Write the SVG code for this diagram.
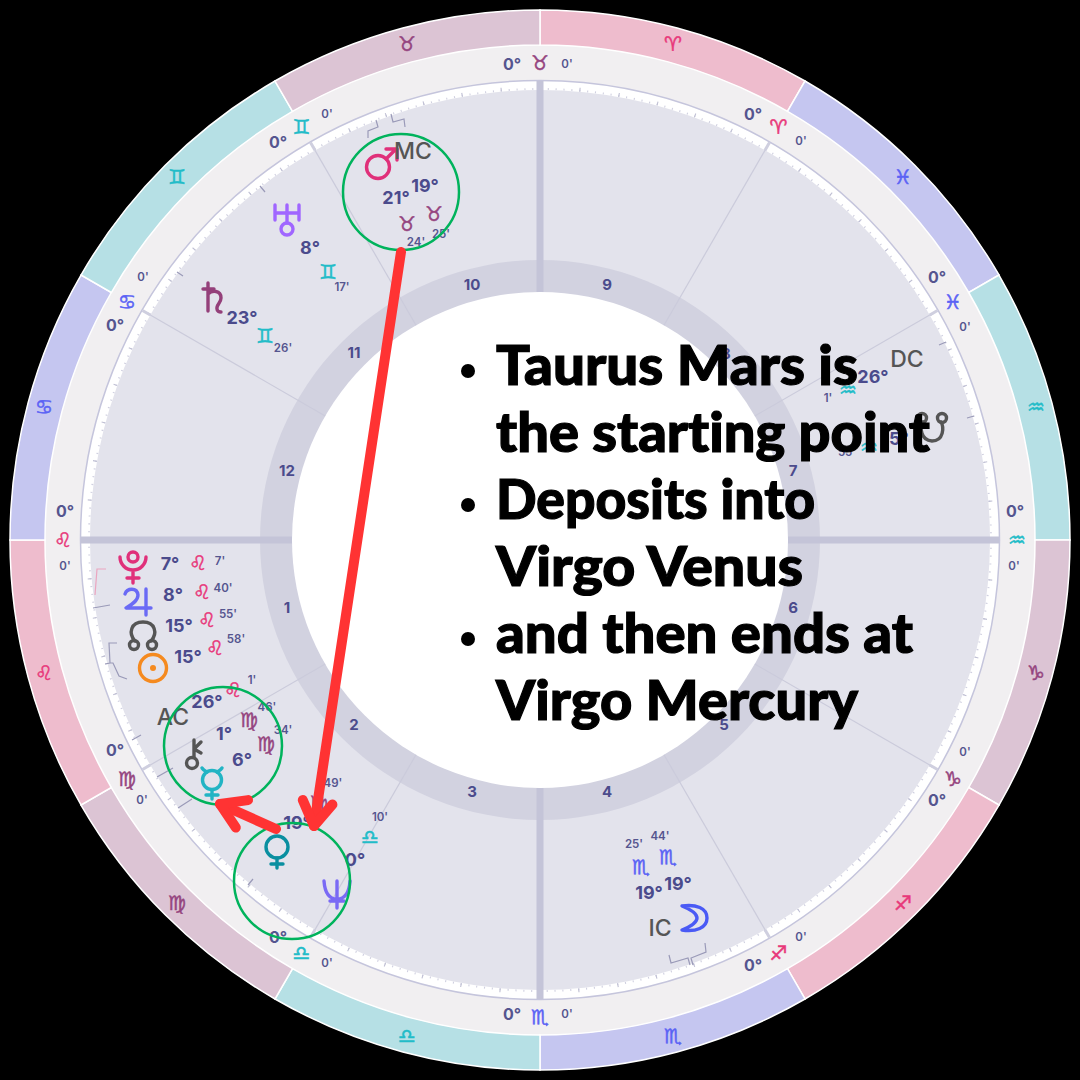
<svg xmlns="http://www.w3.org/2000/svg" width="1080" height="1080" viewBox="0 0 1080 1080">
<style>
text{font-family:"Inter","Liberation Sans",sans-serif;text-anchor:middle;dominant-baseline:central}
.d{font-size:18px;font-weight:700;fill:#4b4b8c}
.o{font-size:16px;font-weight:700;fill:#55558f}
.m{font-size:11.5px;font-weight:600;fill:#55558f}
.h{font-size:15px;font-weight:700;fill:#4b4b8c}
.g{font-family:"DejaVu Sans",sans-serif;font-size:20px;stroke-width:.5}
.pk{fill:#e8387a;stroke:#e8387a}
.mv{fill:#95447f;stroke:#95447f}
.tl{fill:#22bcc8;stroke:#22bcc8}
.bl{fill:#5a62f5;stroke:#5a62f5}
.a{font-size:23px;font-weight:500;fill:#555}
.i{fill:none;stroke-width:3.4;stroke-linecap:round;stroke-linejoin:round}
.sp{stroke:#fff;stroke-width:1.5}
.c{fill:none;stroke:#9a9ab8;stroke-width:1.2}
.cusp{stroke:#cbcbdb;stroke-width:1.2}
.t{font-family:"Lato","Liberation Sans",sans-serif;font-size:55px;font-weight:900;fill:#000;stroke:#000;stroke-width:1.2;text-anchor:start;dominant-baseline:auto;font-variant-ligatures:none}
.ring{fill:none;stroke:#00b35c;stroke-width:2.5}
.ar{fill:none;stroke:#ff3333;stroke-width:10;stroke-linecap:round}
</style>
<defs>
<path id="sec" d="M540 10A530 530 0 0 1 805 81L787.5 111.3A495 495 0 0 0 540 45Z"/>
<line id="cu" class="cusp" x1="540" y1="292" x2="540" y2="84"/>
<line id="tk" x1="540" y1="81" x2="540" y2="90" stroke="#cfcfdf" stroke-width="3"/>
<marker id="hd" markerUnits="userSpaceOnUse" viewBox="-32 -25 42 50" markerWidth="42" markerHeight="50" refX="0" refY="0" orient="auto">
<path d="M-24 -15L0 0L-24 15" fill="none" stroke="#ff3333" stroke-width="10" stroke-linecap="round" stroke-linejoin="round"/>
</marker>
<g id="i-pluto"><path d="M-13 -10A13 13 0 0 0 13 -10M0 3V16M-6 11H6"/><circle cy="-10" r="5"/></g>
<path id="i-jupiter" d="M-12 -8C-10 -14 0 -15 1 -7C1 -1 -6 3 -11 6H14M9 -13V13"/>
<g id="i-nnode"><path d="M-8 6C-15 -2 -12 -13 0 -13C12 -13 15 -2 8 6"/><circle cx="-9" cy="10" r="4.5"/><circle cx="9" cy="10" r="4.5"/></g>
<g id="i-snode"><path d="M-9 -6C-12 -1 -12 12 0 13C12 13 12 -1 9 -6"/><circle cx="-10" cy="-10" r="4.5"/><circle cx="10" cy="-10" r="4.5"/></g>
<g id="i-sun"><circle r="13.5"/><path d="M0 0h.01" stroke-width="6"/></g>
<g id="i-chiron"><circle cy="8" r="5.5"/><path d="M2 -15V2M9 -13L2 -6L9 -2"/></g>
<g id="i-mercury"><circle cy="-2" r="9.5"/><path d="M-10 -14C-8 -11 -6 -11 -5 -10M10 -14C8 -11 6 -11 5 -10M0 8V17M-6 13H6"/></g>
<g id="i-venus"><circle cy="-3" r="11"/><path d="M0 8V18M-6 14H6"/></g>
<path id="i-neptune" d="M-13 -12C-12 2 -6 6 0 6C6 6 12 2 13 -12M0 -12V15M-7 8H7"/>
<g id="i-mars"><circle cx="-4" cy="4" r="11.5"/><path d="M4 -4L14 -14M4 -14H15V-3"/></g>
<g id="i-uranus"><path d="M-12 -15V0M12 -15V0M-12 -7H12M0 -15V3"/><circle cy="9" r="6"/></g>
<path id="i-saturn" d="M-4 -14V14M-9 -8H2M-4 -3C0 -7 9 -7 9 1C9 6 4 8 5 12C5 14 7 15 9 15"/>
<path id="i-moon" d="M-13 -12C1 -14 12 -10 12 0C12 10 1 14 -13 12C-3 8 2 4 2 0C2 -4 -3 -8 -13 -12Z"/>
</defs>
<rect width="1080" height="1080" fill="#000"/>
<g id="wheel">
<circle cx="540" cy="540" r="530" fill="#f1eff1"/>
<g id="band" class="sp">
<use href="#sec" fill="#eebccd"/>
<use href="#sec" fill="#c5c6f0" transform="rotate(30 540 540)"/>
<use href="#sec" fill="#b6e0e5" transform="rotate(60 540 540)"/>
<use href="#sec" fill="#dcc4d4" transform="rotate(90 540 540)"/>
<use href="#sec" fill="#eebccd" transform="rotate(120 540 540)"/>
<use href="#sec" fill="#c5c6f0" transform="rotate(150 540 540)"/>
<use href="#sec" fill="#b6e0e5" transform="rotate(180 540 540)"/>
<use href="#sec" fill="#dcc4d4" transform="rotate(210 540 540)"/>
<use href="#sec" fill="#eebccd" transform="rotate(240 540 540)"/>
<use href="#sec" fill="#c5c6f0" transform="rotate(270 540 540)"/>
<use href="#sec" fill="#b6e0e5" transform="rotate(300 540 540)"/>
<use href="#sec" fill="#dcc4d4" transform="rotate(330 540 540)"/>
</g>
<circle cx="540" cy="540" r="459.5" fill="#fff" stroke="#c5c5dc" stroke-width="1.5"/>
<circle cx="540" cy="540" r="451" fill="none" stroke="#d0d0e0" stroke-width="2" pathLength="360" stroke-dasharray="0.14 0.86"/>
<circle cx="540" cy="540" r="452" fill="none" stroke="#c0c0d4" stroke-width="4" pathLength="360" stroke-dasharray="0.14 4.86"/>
<circle cx="540" cy="540" r="450" fill="#e3e3ec"/>
<circle cx="540" cy="540" r="280" fill="#d2d2e0"/>
<circle cx="540" cy="540" r="248" fill="#fff"/>
<g id="cusps">
<use href="#cu" transform="rotate(30 540 540)"/><use href="#cu" transform="rotate(60 540 540)"/><use href="#cu" transform="rotate(120 540 540)"/><use href="#cu" transform="rotate(150 540 540)"/><use href="#cu" transform="rotate(210 540 540)"/><use href="#cu" transform="rotate(240 540 540)"/><use href="#cu" transform="rotate(300 540 540)"/><use href="#cu" transform="rotate(330 540 540)"/>
<use href="#tk" transform="rotate(30 540 540)"/><use href="#tk" transform="rotate(60 540 540)"/><use href="#tk" transform="rotate(120 540 540)"/><use href="#tk" transform="rotate(150 540 540)"/><use href="#tk" transform="rotate(210 540 540)"/><use href="#tk" transform="rotate(240 540 540)"/><use href="#tk" transform="rotate(300 540 540)"/><use href="#tk" transform="rotate(330 540 540)"/>
<path d="M540 292V81M540 788V999M292 540H81M788 540H999" stroke="#c4c4d8" stroke-width="7" fill="none"/>
</g>
</g>
<g id="band-signs">
<text class="g pk" x="673" y="44">♈</text><text class="g bl" x="903" y="177">♓</text><text class="g tl" x="1036" y="407">♒</text><text class="g mv" x="1036" y="673">♑</text><text class="g pk" x="903" y="903">♐</text><text class="g bl" x="673" y="1036">♏</text><text class="g tl" x="407" y="1036">♎</text><text class="g mv" x="177" y="903">♍</text><text class="g pk" x="44" y="673">♌</text><text class="g bl" x="44" y="407">♋</text><text class="g tl" x="177" y="177">♊</text><text class="g mv" x="407" y="44">♉</text>
</g>
<g id="ring-signs">
<text class="g mv" x="540" y="63">♉</text><text class="g pk" x="778.5" y="127">♈</text><text class="g bl" x="953" y="301.5">♓</text><text class="g tl" x="1017" y="540">♒</text><text class="g mv" x="953" y="778.5">♑</text><text class="g pk" x="778.5" y="953">♐</text><text class="g bl" x="540" y="1017">♏</text><text class="g tl" x="301.5" y="953">♎</text><text class="g mv" x="127" y="778.5">♍</text><text class="g pk" x="63" y="540">♌</text><text class="g bl" x="127" y="301.5">♋</text><text class="g tl" x="301.5" y="127">♊</text>
</g>
<g id="ring-degrees">
<text class="o" x="512" y="64">0°</text><text class="o" x="753" y="114">0°</text><text class="o" x="937" y="277">0°</text><text class="o" x="1015" y="511">0°</text><text class="o" x="937" y="800">0°</text><text class="o" x="753" y="965">0°</text><text class="o" x="512" y="1014">0°</text><text class="o" x="278" y="937">0°</text><text class="o" x="115" y="750">0°</text><text class="o" x="65" y="511">0°</text><text class="o" x="115" y="325">0°</text><text class="o" x="278" y="142">0°</text>
<text class="m" x="567" y="64">0'</text><text class="m" x="801" y="141">0'</text><text class="m" x="965" y="327">0'</text><text class="m" x="1014" y="566">0'</text><text class="m" x="965" y="752">0'</text><text class="m" x="801" y="937">0'</text><text class="m" x="567" y="1014">0'</text><text class="m" x="327" y="963">0'</text><text class="m" x="142" y="800">0'</text><text class="m" x="65" y="566">0'</text><text class="m" x="143" y="277">0'</text><text class="m" x="327" y="114">0'</text>
</g>
<g id="houses">
<text class="h" x="472" y="284">10</text><text class="h" x="607" y="284">9</text><text class="h" x="726" y="353">8</text><text class="h" x="793" y="470">7</text><text class="h" x="793" y="607">6</text><text class="h" x="724" y="724">5</text><text class="h" x="607" y="791">4</text><text class="h" x="472" y="791">3</text><text class="h" x="354" y="724">2</text><text class="h" x="287" y="607">1</text><text class="h" x="287" y="470">12</text><text class="h" x="354" y="352">11</text>
</g>
<g id="connectors">
<path class="c" d="M368 138V131L378 127L376 120M405 127L404 119L393 122L391 114M260 186L265 192M177 272L183 276M939 345L946 342M967 418L974 416M669 955L671 963L688 958L690 965M705 943L706 952L691 958L693 965M93 608L110 605M117 643H109L110 663L105 664M110 663L113 663L119 676L127 679M132 740L141 735M157 777L173 768M178 808L192 799M248 885L253 879"/>
<path d="M106 569H97L95 595" fill="none" stroke="#eba5bf" stroke-width="1.2"/>
</g>
<g id="pluto"><use href="#i-pluto" class="i" stroke="#e0307a" x="133" y="567"/><text class="d" x="170" y="563">7°</text><text class="g pk" x="198" y="563">♌</text><text class="m" x="220" y="561">7'</text></g>
<g id="jupiter"><use href="#i-jupiter" class="i" stroke="#6a6af5" x="137" y="602"/><text class="d" x="173" y="594">8°</text><text class="g pk" x="202" y="592">♌</text><text class="m" x="223" y="588">40'</text></g>
<g id="north-node"><use href="#i-nnode" class="i" stroke="#555" x="143" y="635"/><text class="d" x="179" y="625">15°</text><text class="g pk" x="207" y="620">♌</text><text class="m" x="228" y="614">55'</text></g>
<g id="sun"><use href="#i-sun" class="i" stroke="#f58a1f" x="153" y="668"/><text class="d" x="188" y="656">15°</text><text class="g pk" x="215" y="648">♌</text><text class="m" x="236" y="639">58'</text></g>
<g id="ascendant"><text class="a" x="173" y="717">AC</text><text class="d" x="207" y="701">26°</text><text class="g pk" x="233" y="690">♌</text><text class="m" x="252" y="680">1'</text></g>
<g id="chiron"><use href="#i-chiron" class="i" stroke="#555" x="192" y="755"/><text class="d" x="224" y="733">1°</text><text class="g mv" x="249" y="720">♍</text><text class="m" x="267" y="707">46'</text></g>
<g id="mercury"><use href="#i-mercury" class="i" stroke="#22b4c4" x="212" y="782"/><text class="d" x="242" y="759">6°</text><text class="g mv" x="266" y="744">♍</text><text class="m" x="283" y="730">34'</text></g>
<g id="venus"><use href="#i-venus" class="i" stroke="#0a8fa0" x="277" y="850"/><text class="d" x="297" y="822">19°</text><text class="g mv" x="319" y="803">♍</text><text class="m" x="333" y="783">49'</text></g>
<g id="neptune"><use href="#i-neptune" class="i" stroke="#7a6af5" x="337" y="893"/><text class="d" x="355" y="859">0°</text><text class="g tl" x="370" y="837">♎</text><text class="m" x="380" y="817">10'</text></g>
<g id="mars"><use href="#i-mars" class="i" stroke="#e0307a" x="382" y="163"/><text class="d" x="396" y="197">21°</text><text class="g mv" x="407" y="224">♉</text><text class="m" x="416" y="242">24'</text></g>
<g id="midheaven"><text class="a" x="413" y="151">MC</text><text class="d" x="425" y="185">19°</text><text class="g mv" x="434" y="214">♉</text><text class="m" x="441" y="234">25'</text></g>
<g id="uranus"><use href="#i-uranus" class="i" stroke="#a066ff" x="287" y="220"/><text class="d" x="310" y="247">8°</text><text class="g tl" x="328" y="272">♊</text><text class="m" x="342" y="287">17'</text></g>
<g id="saturn"><use href="#i-saturn" class="i" stroke="#94407a" x="212" y="297"/><text class="d" x="242" y="317">23°</text><text class="g tl" x="265" y="336">♊</text><text class="m" x="283" y="348">26'</text></g>
<g id="descendant"><text class="a" x="907" y="359">DC</text><text class="d" x="873" y="376">26°</text><text class="g tl" x="848" y="390">♒</text><text class="m" x="828" y="398">1'</text></g>
<g id="south-node"><use href="#i-snode" class="i" stroke="#555" x="932" y="428"/><text class="d" x="895" y="438">15°</text><text class="g tl" x="869" y="447">♒</text><text class="m" x="847" y="452">55'</text></g>
<g id="moon"><use href="#i-moon" class="i" stroke="#4a5af5" x="695" y="918"/><text class="d" x="649" y="892">19°</text><text class="g bl" x="641" y="867">♏</text><text class="m" x="634" y="844">25'</text></g>
<g id="imum-coeli"><text class="a" x="660" y="928">IC</text><text class="d" x="678" y="883">19°</text><text class="g bl" x="668" y="857">♏</text><text class="m" x="660" y="836">44'</text></g>
<g id="highlights">
<circle class="ring" cx="401" cy="192" r="58"/>
<circle class="ring" cx="223" cy="746" r="59"/>
<circle class="ring" cx="292" cy="881" r="58"/>
</g>
<g id="arrows">
<path class="ar" d="M401 252L314 826" marker-end="url(#hd)"/>
<path class="ar" d="M276 829L220 804" marker-end="url(#hd)"/>
</g>
<g id="notes">
<circle cx="468" cy="371" r="7"/><circle cx="468" cy="505" r="7"/><circle cx="468" cy="639" r="7"/>
<text class="t" x="496" y="385" textLength="362" lengthAdjust="spacingAndGlyphs">Taurus Mars is</text>
<text class="t" x="496" y="452" textLength="434" lengthAdjust="spacingAndGlyphs">the starting point</text>
<text class="t" x="496" y="519" textLength="319" lengthAdjust="spacingAndGlyphs">Deposits into</text>
<text class="t" x="496" y="586" textLength="307" lengthAdjust="spacingAndGlyphs">Virgo Venus</text>
<text class="t" x="496" y="653" textLength="417" lengthAdjust="spacingAndGlyphs">and then ends at</text>
<text class="t" x="496" y="720" textLength="362" lengthAdjust="spacingAndGlyphs">Virgo Mercury</text>
</g>
</svg>
